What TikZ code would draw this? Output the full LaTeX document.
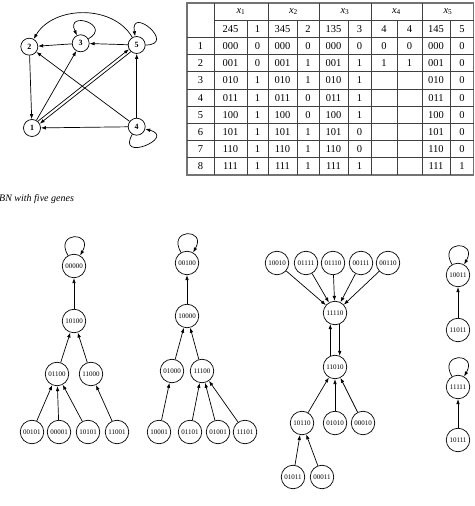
\documentclass[tikz,border=0pt]{standalone}
\usepackage{fontspec}
\setmainfont{Liberation Serif}
\usetikzlibrary{arrows.meta}

\begin{document}
\begin{tikzpicture}[x=1pt,y=1pt,
    gene/.style={circle,draw,line width=0.7pt,minimum size=17pt,inner sep=0pt,font=\fontsize{8}{8}\selectfont\bfseries},
    state/.style={circle,draw,line width=0.7pt,minimum size=23.5pt,inner sep=0pt,font=\fontsize{7}{7}\selectfont},
    arr/.style={-{Latex[length=5pt,width=3.6pt]},line width=0.7pt},
    selfloop/.style={arr,out=120,in=60,looseness=6},
    cell/.style={inner sep=0pt,font=\fontsize{10.5}{10.5}\selectfont},
    rule/.style={black!75,line width=0.7pt}]
  \useasboundingbox (0,0) rectangle (474,506);

  \node[gene] (g1) at (32,378) {1};
  \node[gene] (g2) at (29.3,459.3) {2};
  \node[gene] (g3) at (80.7,462.7) {3};
  \node[gene] (g4) at (136.7,379.3) {4};
  \node[gene] (g5) at (136.7,461) {5};
  \draw[arr] (g3) -- (g2);
  \draw[arr] (g5) -- (g3);
  \draw[arr] (g5) to[out=120,in=60] (g2);
  \draw[arr] (g2) -- (g1);
  \draw[arr] (g1) -- (g3);
  \draw[arr] (g1.49) -- (g5.209);
  \draw[arr] (g5.229) -- (g1.29);
  \draw[arr] (g4) -- (g2);
  \draw[arr] (g4) -- (g1);
  \draw[arr] (g4) -- (g5);
  \draw[arr] (g3) to[out=30,in=115,looseness=6] (g3);
  \draw[arr] (g5) to[out=0,in=100,looseness=6] (g5);
  \draw[arr] (g4) to[out=240,in=345,looseness=6] (g4);

  \draw[black!55,line width=1.3pt] (187,331) rectangle (473.5,503);
  \draw[rule] (214,485.8) -- (474,485.8);
  \foreach \y in {468.6,451.4,434.2,417,399.8,382.6,365.4,348.2}
    \draw[rule] (187,\y) -- (474,\y);
  \foreach \x in {214,268,319,371,422}
    \draw[rule] (\x,331) -- (\x,503);
  \foreach \x in {247,297,348,397,450}
    \draw[rule] (\x,331) -- (\x,485.8);
  \node[cell] (hx1) at (241,494.4) {\textit{x}\textsubscript{1}};
  \node[cell] (hx2) at (293.5,494.4) {\textit{x}\textsubscript{2}};
  \node[cell] (hx3) at (345,494.4) {\textit{x}\textsubscript{3}};
  \node[cell] (hx4) at (396.5,494.4) {\textit{x}\textsubscript{4}};
  \node[cell] (hx5) at (448,494.4) {\textit{x}\textsubscript{5}};
  \node[cell] (in1) at (230.5,477.2) {245};
  \node[cell] (out1) at (257.5,477.2) {1};
  \node[cell] (in2) at (282.5,477.2) {345};
  \node[cell] (out2) at (308,477.2) {2};
  \node[cell] (in3) at (333.5,477.2) {135};
  \node[cell] (out3) at (359.5,477.2) {3};
  \node[cell] (in4) at (384,477.2) {4};
  \node[cell] (out4) at (409.5,477.2) {4};
  \node[cell] (in5) at (436,477.2) {145};
  \node[cell] (out5) at (462,477.2) {5};
  \foreach \a/\b/\c/\d/\e/\f/\g/\h [count=\k] in {
      000/0/000/0/000/0/000/0, 001/0/001/1/001/1/001/0,
      010/1/010/1/010/1/010/0, 011/1/011/0/011/1/011/0,
      100/1/100/0/100/1/100/0, 101/1/101/1/101/0/101/0,
      110/1/110/1/110/0/110/0, 111/1/111/1/111/1/111/1} {
    \pgfmathsetmacro\ry{494.4-17.2*(\k+1)}
    \node[cell] (r\k) at (200.5,\ry) {\k};
    \node[cell] (a\k) at (230.5,\ry) {\a};
    \node[cell] (b\k) at (257.5,\ry) {\b};
    \node[cell] (c\k) at (282.5,\ry) {\c};
    \node[cell] (d\k) at (308,\ry) {\d};
    \node[cell] (e\k) at (333.5,\ry) {\e};
    \node[cell] (f\k) at (359.5,\ry) {\f};
    \node[cell] (g\k) at (436,\ry) {\g};
    \node[cell] (h\k) at (462,\ry) {\h};
  }
  \node[cell] (u1) at (384,460) {0};
  \node[cell] (v1) at (409.5,460) {0};
  \node[cell] (u2) at (384,442.8) {1};
  \node[cell] (v2) at (409.5,442.8) {1};

  \node[anchor=west,inner sep=0pt,font=\fontsize{10}{10}\selectfont\itshape] (caption) at (-1,307) {BN with five genes};

  \node[state] (s00000) at (74,240) {00000};
  \node[state] (s10100) at (74,185) {10100};
  \node[state] (s01100) at (57,132) {01100};
  \node[state] (s11000) at (91,132) {11000};
  \node[state] (s00101) at (32,74) {00101};
  \node[state] (s00001) at (59,74) {00001};
  \node[state] (s10101) at (88,74) {10101};
  \node[state] (s11001) at (117,74) {11001};

  \node[state] (s00100) at (187,243) {00100};
  \node[state] (s10000) at (187,190) {10000};
  \node[state] (s01000) at (172,135) {01000};
  \node[state] (s11100) at (202,135) {11100};
  \node[state] (s10001) at (159,74) {10001};
  \node[state] (s01101) at (190,74) {01101};
  \node[state] (s01001) at (218,74) {01001};
  \node[state] (s11101) at (245,74) {11101};

  \node[state] (s10010) at (277,243) {10010};
  \node[state] (s01111) at (306,243) {01111};
  \node[state] (s01110) at (333,243) {01110};
  \node[state] (s00111) at (361,243) {00111};
  \node[state] (s00110) at (388,243) {00110};
  \node[state] (s11110) at (335,193) {11110};
  \node[state] (s11010) at (335,139) {11010};
  \node[state] (s10110) at (302,83) {10110};
  \node[state] (s01010) at (335,83) {01010};
  \node[state] (s00010) at (363,83) {00010};
  \node[state] (s01011) at (293,29) {01011};
  \node[state] (s00011) at (322,29) {00011};

  \node[state] (s10011) at (458,231) {10011};
  \node[state] (s11011) at (458,176) {11011};
  \node[state] (s11111) at (458,119) {11111};
  \node[state] (s10111) at (458,66) {10111};

  \foreach \u/\v in {s10100/s00000, s01100/s10100, s11000/s10100,
      s00101/s01100, s00001/s01100, s10101/s01100, s11001/s11000,
      s10000/s00100, s01000/s10000, s11100/s10000,
      s10001/s01000, s01101/s11100, s01001/s11100, s11101/s11100,
      s10010/s11110, s01111/s11110, s01110/s11110, s00111/s11110, s00110/s11110,
      s10110/s11010, s01010/s11010, s00010/s11010,
      s01011/s10110, s00011/s10110,
      s11011/s10011, s10111/s11111}
    \draw[arr] (\u) -- (\v);
  \draw[arr] (s11010.113) -- (s11110.247);
  \draw[arr] (s11110.293) -- (s11010.67);
  \foreach \s in {s00000,s00100,s10011,s11111}
    \draw[selfloop] (\s) to (\s);
\end{tikzpicture}
\end{document}
